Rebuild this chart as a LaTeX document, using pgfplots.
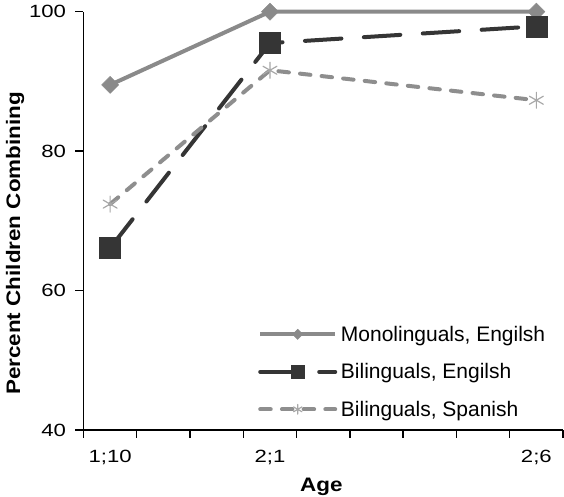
\documentclass[border=0pt]{standalone}
\usepackage{fontspec}
\setmainfont{Liberation Sans}
\newfontfamily\tickfont[FakeStretch=1.25]{Liberation Sans}
\newfontfamily\labfont[FakeStretch=1.15]{Liberation Sans}
\usepackage{pgfplots}
\pgfplotsset{compat=1.18}

\definecolor{monogray}{HTML}{8A8A8A}
\definecolor{bieng}{HTML}{353535}
\definecolor{spagray}{HTML}{8E8E8E}
\definecolor{stargray}{HTML}{A8A8A8}

\begin{document}
\begin{tikzpicture}
\useasboundingbox (-83.5pt,-67pt) rectangle (480.5pt,430pt);
\begin{axis}[
    scale only axis,
    width=479.5pt, height=418.3pt,
    axis lines=left,
    axis line style={-, line width=1.4pt, black},
    xmin=-0.5, xmax=8.5,
    ymin=40, ymax=100,
    ytick={40,60,80,100},
    xtick={-0.5,0.5,...,8.5},
    xticklabels={},
    extra x ticks={0,3,8},
    extra x tick labels={1;10,2;1,2;6},
    extra x tick style={major tick length=0pt, xticklabel style={yshift=-17pt}},
    tick align=outside,
    major tick length=8pt,
    tick style={line width=1.4pt, black},
    /pgf/number format/assume math mode=true,
    tick label style={font=\tickfont\fontsize{17.7}{20}\selectfont},
    yticklabel style={xshift=-6pt},
    xlabel={Age},
    ylabel={Percent Children Combining},
    label style={font=\labfont\bfseries\fontsize{19.5}{22}\selectfont},
    xlabel style={at={(axis description cs:0.496,-0.1475)}, anchor=base},
    ylabel style={at={(axis description cs:-0.1426,0.446)}, anchor=center},
    legend style={at={(axis description cs:0.364,0.254)}, anchor=north west,
        draw=none, fill=none, inner sep=0pt, row sep=16.8pt, column sep=1.7pt,
        font=\fontsize{21}{24}\selectfont, nodes={inner sep=2pt}},
    legend cell align=left,
    legend image code/.code={\draw[mark repeat=2,mark phase=2,
        every mark/.append style={scale=0.6}]
        plot coordinates {(0pt,0pt) (37.5pt,0pt) (75pt,0pt)};},
    clip=false,
]
% Monolinguals, English
\addplot[color=monogray, line width=4pt, mark=square*, mark size=6pt,
    mark options={rotate=45, line width=0.5pt}]
    coordinates {(0,89.5) (3,100) (8,100)};
\addlegendentry{Monolinguals, Engilsh}
% Bilinguals, English
\addplot[color=bieng, line width=4pt, line cap=round, dash pattern=on 36.5pt off 22.5pt,
    mark=square*, mark size=10.5pt, mark options={solid, line width=0.5pt}]
    coordinates {(0,66.1) (3,95.5) (8,97.9)};
\addlegendentry{Bilinguals, Engilsh}
% Bilinguals, Spanish
\addplot[color=spagray, line width=4pt, line cap=round, dash pattern=on 10.5pt off 11.2pt,
    mark=asterisk, mark size=8pt, mark options={solid, line width=1.2pt, draw=stargray}]
    coordinates {(0,72.4) (3,91.6) (8,87.3)};
\addlegendentry{Bilinguals, Spanish}
\end{axis}
\end{tikzpicture}
\end{document}
